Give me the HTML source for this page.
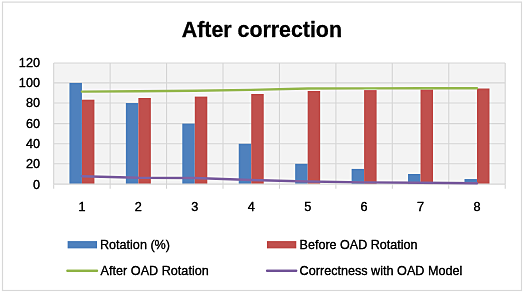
<!DOCTYPE html><html><head><meta charset="utf-8"><style>html,body{margin:0;padding:0;background:#fff;}svg{display:block}text{font-family:"Liberation Sans",Arial,sans-serif;fill:#000;stroke:#000;stroke-width:0.3px}</style></head><body>
<svg width="524" height="293" viewBox="0 0 524 293">
<defs><filter id="sh" x="0" y="0" width="524" height="293" filterUnits="userSpaceOnUse" color-interpolation-filters="sRGB"><feGaussianBlur in="SourceGraphic" stdDeviation="0.8" result="b"/><feComposite in="SourceGraphic" in2="b" operator="arithmetic" k1="0" k2="1.45" k3="-0.45" k4="0"/></filter></defs><g filter="url(#sh)">
<rect x="0" y="0" width="524" height="293" fill="#fff"/>
<rect x="2.4" y="2" width="519.2" height="288.6" fill="#fff" stroke="#dedede" stroke-width="1.5"/>
<text x="181.75" y="36.9" font-size="22.3" font-weight="bold" textLength="160.2" lengthAdjust="spacingAndGlyphs">After correction</text>
<rect x="53.7" y="63.0" width="451.50" height="121.15" fill="#f3f3f3"/>
<path d="M53.70 63.00H505.20 M53.70 82.90H505.20 M53.70 103.05H505.20 M53.70 123.60H505.20 M53.70 143.75H505.20 M53.70 163.80H505.20 M53.70 63.00V184.15 M110.14 63.00V184.15 M166.57 63.00V184.15 M223.01 63.00V184.15 M279.45 63.00V184.15 M335.89 63.00V184.15 M392.32 63.00V184.15 M448.76 63.00V184.15 M505.20 63.00V184.15" stroke="#d9d9d9" stroke-width="1.1" fill="none"/>
<rect x="69.42" y="82.90" width="12.5" height="101.25" fill="#4f81bd"/>
<rect x="81.92" y="99.70" width="12.5" height="84.45" fill="#c0504d"/>
<rect x="125.86" y="103.05" width="12.5" height="81.10" fill="#4f81bd"/>
<rect x="138.36" y="98.00" width="12.5" height="86.15" fill="#c0504d"/>
<rect x="182.29" y="123.60" width="12.5" height="60.55" fill="#4f81bd"/>
<rect x="194.79" y="96.60" width="12.5" height="87.55" fill="#c0504d"/>
<rect x="238.73" y="143.75" width="12.5" height="40.40" fill="#4f81bd"/>
<rect x="251.23" y="94.00" width="12.5" height="90.15" fill="#c0504d"/>
<rect x="295.17" y="163.80" width="12.5" height="20.35" fill="#4f81bd"/>
<rect x="307.67" y="91.00" width="12.5" height="93.15" fill="#c0504d"/>
<rect x="351.61" y="168.89" width="12.5" height="15.26" fill="#4f81bd"/>
<rect x="364.11" y="90.10" width="12.5" height="94.05" fill="#c0504d"/>
<rect x="408.04" y="173.98" width="12.5" height="10.17" fill="#4f81bd"/>
<rect x="420.54" y="89.50" width="12.5" height="94.65" fill="#c0504d"/>
<rect x="464.48" y="179.06" width="12.5" height="5.09" fill="#4f81bd"/>
<rect x="476.98" y="88.50" width="12.5" height="95.65" fill="#c0504d"/>
<path d="M53.70 184.15H505.20 M53.70 184.15V188.65 M110.14 184.15V188.65 M166.57 184.15V188.65 M223.01 184.15V188.65 M279.45 184.15V188.65 M335.89 184.15V188.65 M392.32 184.15V188.65 M448.76 184.15V188.65 M505.20 184.15V188.65" stroke="#d9d9d9" stroke-width="1.1" fill="none"/>
<polyline points="81.92,91.6 138.36,91.3 194.79,90.8 251.23,89.9 307.67,88.5 364.11,88.4 420.54,88.3 476.98,88.2" fill="none" stroke="#9bbb59" stroke-width="2.4" stroke-linecap="round" stroke-linejoin="round"/>
<polyline points="81.92,176.3 138.36,177.8 194.79,178 251.23,180 307.67,181.5 364.11,182.4 420.54,182.7 476.98,183.3" fill="none" stroke="#8064a2" stroke-width="2.4" stroke-linecap="round" stroke-linejoin="round"/>
<text x="40" y="67.40" font-size="12.7" text-anchor="end">120</text>
<text x="40" y="87.30" font-size="12.7" text-anchor="end">100</text>
<text x="40" y="107.45" font-size="12.7" text-anchor="end">80</text>
<text x="40" y="128.00" font-size="12.7" text-anchor="end">60</text>
<text x="40" y="148.15" font-size="12.7" text-anchor="end">40</text>
<text x="40" y="168.20" font-size="12.7" text-anchor="end">20</text>
<text x="40" y="188.55" font-size="12.7" text-anchor="end">0</text>
<text x="81.92" y="211.2" font-size="12.7" text-anchor="middle">1</text>
<text x="138.36" y="211.2" font-size="12.7" text-anchor="middle">2</text>
<text x="194.79" y="211.2" font-size="12.7" text-anchor="middle">3</text>
<text x="251.23" y="211.2" font-size="12.7" text-anchor="middle">4</text>
<text x="307.67" y="211.2" font-size="12.7" text-anchor="middle">5</text>
<text x="364.11" y="211.2" font-size="12.7" text-anchor="middle">6</text>
<text x="420.54" y="211.2" font-size="12.7" text-anchor="middle">7</text>
<text x="476.98" y="211.2" font-size="12.7" text-anchor="middle">8</text>
<rect x="67.6" y="241.1" width="29.4" height="7.3" fill="#4f81bd"/>
<text x="99.9" y="248.5" font-size="13" textLength="70.15" lengthAdjust="spacingAndGlyphs">Rotation (%)</text>
<rect x="266.9" y="241.1" width="29.4" height="7.3" fill="#c0504d"/>
<text x="299.6" y="248.5" font-size="13" textLength="117.85" lengthAdjust="spacingAndGlyphs">Before OAD Rotation</text>
<line x1="67.4" y1="270.7" x2="97" y2="270.7" stroke="#9bbb59" stroke-width="2.4" stroke-linecap="round"/>
<text x="100.6" y="275.2" font-size="13" textLength="108.2" lengthAdjust="spacingAndGlyphs">After OAD Rotation</text>
<line x1="267.1" y1="270.7" x2="296.2" y2="270.7" stroke="#8064a2" stroke-width="2.4" stroke-linecap="round"/>
<text x="299.6" y="275.2" font-size="13" textLength="162.7" lengthAdjust="spacingAndGlyphs">Correctness with OAD Model</text>
</g></svg></body></html>
